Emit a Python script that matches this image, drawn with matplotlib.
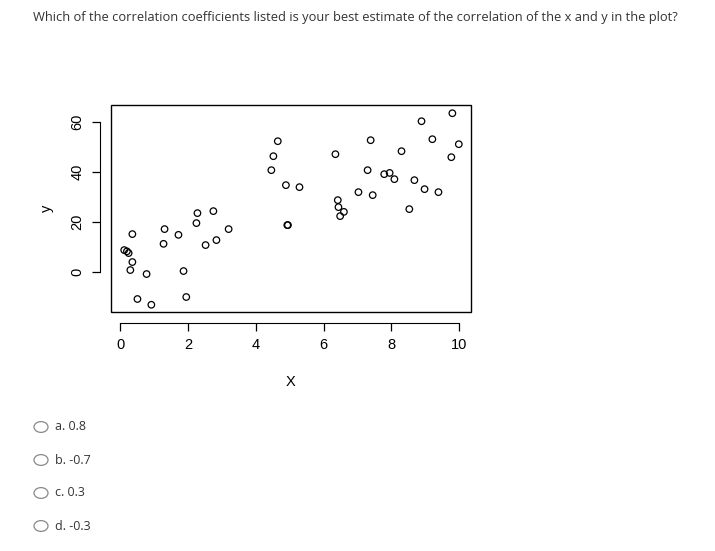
import matplotlib.pyplot as plt
from matplotlib.patches import Rectangle, Circle

# scatter points
x = [0.12, 0.2, 0.25, 0.36, 0.36, 0.3, 0.51, 0.78, 0.92, 1.28, 1.31, 1.72, 1.87, 1.95,
     2.25, 2.28, 2.52, 2.75, 2.84, 3.2, 4.46, 4.52, 4.65, 4.89, 4.93, 4.95, 5.29,
     6.35, 6.42, 6.44, 6.6, 6.49, 7.03, 7.3, 7.39, 7.45, 7.79, 7.95, 8.09, 8.3,
     8.53, 8.68, 8.89, 8.98, 9.21, 9.39, 9.77, 9.8, 9.99]
y = [8.8, 8.3, 7.6, 15.2, 4.0, 0.8, -10.8, -0.8, -13.1, 11.3, 17.2, 14.9, 0.4, -10,
     19.6, 23.6, 10.8, 24.4, 12.8, 17.2, 40.8, 46.4, 52.4, 34.8, 18.8, 18.8, 34,
     47.2, 28.8, 26, 24.1, 22.4, 32, 40.8, 52.8, 30.8, 39.2, 39.7, 37.2, 48.4,
     25.2, 36.8, 60.4, 33.2, 53.2, 32, 46, 63.6, 51.2]
xticks = [0, 2, 4, 6, 8, 10]
yticks = [0, 20, 40, 60]
question = ("Which of the correlation coefficients listed is your best estimate "
            "of the correlation of the x and y in the plot?")
options = ["a. 0.8", "b. -0.7", "c. 0.3", "d. -0.3"]

W, H = 715, 551
fig = plt.figure(figsize=(W / 100, H / 100), dpi=100)
ax = fig.add_axes([111 / W, 1 - 312 / H, 360 / W, 207 / H])
ax.scatter(x, y, s=22, facecolors="none", edgecolors="black", linewidths=0.9)
ax.set_xlim(-0.27, 10.35)
ax.set_ylim(-16, 66.9)
ax.add_patch(Rectangle((0, 0), 1, 1, transform=ax.transAxes, fill=False,
                       lw=1, ec="black", clip_on=False))
for s in ["top", "right"]:
    ax.spines[s].set_visible(False)
ax.spines["left"].set_position(("outward", 8))
ax.spines["bottom"].set_position(("outward", 8))
ax.spines["left"].set_bounds(0, 60)
ax.spines["bottom"].set_bounds(0, 10)
ax.set_xticks(xticks)
ax.set_yticks(yticks)
ax.tick_params(length=6, width=0.9, labelsize=10.5, pad=5)
ax.set_yticklabels([str(t) for t in yticks], rotation=90, va="center")
for lab in ax.get_xticklabels() + ax.get_yticklabels():
    lab.set_family("Liberation Sans")
ax.set_xlabel("X", fontsize=10.5, family="Liberation Sans", labelpad=16)
ax.set_ylabel("y", fontsize=10.5, family="Liberation Sans", labelpad=12)

fig.text(33 / W, 1 - 18 / H, question, fontsize=9.3, family="Open Sans",
         color="#333333", va="center")
for i, opt in enumerate(options):
    yy = 1 - (427 + i * 33) / H
    fig.patches.append(Circle((41 / W, yy), 7 / W, transform=fig.transFigure,
                              fill=False, ec="#888888", lw=0.9))
    fig.text(55 / W, yy, opt, fontsize=9, family="Open Sans",
             color="#333333", va="center")

fig.savefig("out.png", dpi=100)
